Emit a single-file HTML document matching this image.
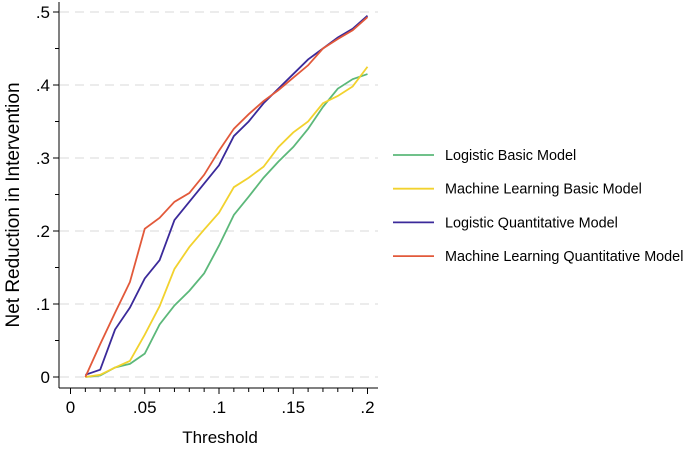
<!DOCTYPE html>
<html><head><meta charset="utf-8"><style>
body{margin:0;background:#fff;font-family:"Liberation Sans",Arial,sans-serif}
</style></head><body>
<svg id="c" width="685" height="444" xmlns="http://www.w3.org/2000/svg"></svg>
<script>
const thresholds=[.01,.02,.03,.04,.05,.06,.07,.08,.09,.1,.11,.12,.13,.14,.15,.16,.17,.18,.19,.2];
const logisticBasic=[0,.002,.013,.018,.032,.072,.098,.118,.142,.18,.222,.247,.273,.295,.315,.34,.37,.395,.408,.415];
const mlBasic=[0,.003,.013,.022,.058,.097,.148,.178,.202,.225,.26,.273,.288,.315,.335,.35,.375,.385,.398,.425];
const logisticQuant=[.003,.01,.065,.095,.135,.16,.215,.24,.265,.29,.33,.35,.375,.395,.415,.435,.45,.465,.477,.495];
const mlQuant=[0,.045,.088,.13,.203,.218,.24,.252,.277,.31,.34,.36,.378,.393,.41,.427,.45,.463,.475,.493];
const xTicks=[0,.05,.1,.15,.2];const xTickLabels=["0",".05",".1",".15",".2"];
const xMinor=[.01,.02,.03,.04,.06,.07,.08,.09,.11,.12,.13,.14,.16,.17,.18,.19];
const yTicks=[0,.1,.2,.3,.4,.5];const yTickLabels=["0",".1",".2",".3",".4",".5"];
const yMinor=[.05,.15,.25,.35,.45];
const seriesNames=["Logistic Basic Model","Machine Learning Basic Model","Logistic Quantitative Model","Machine Learning Quantitative Model"];
const seriesColors=["#5cb87a","#f2d22e","#3b2a9a","#e2593a"];
const series=[logisticBasic,mlBasic,logisticQuant,mlQuant];
const X=v=>70.5+v/0.2*297, Y=v=>377-v/0.5*365;
const svg=document.getElementById('c');const NS="http://www.w3.org/2000/svg";
function el(t,a,p){const e=document.createElementNS(NS,t);for(const k in a)e.setAttribute(k,a[k]);(p||svg).appendChild(e);return e;}
yTicks.forEach((t,i)=>{
 const g=el('line',{x1:60,x2:378,y1:Y(t),y2:Y(t),stroke:'#e6e6e6','stroke-dasharray':'9,6','stroke-width':1.5});
 
 
 const tk=el('line',{x1:53,x2:59,y1:Y(t),y2:Y(t),stroke:'#000'});
 
 
 const tx=el('text',{x:50,y:Y(t)+6,'text-anchor':'end','font-size':17});tx.textContent=yTickLabels[i];
 
 
});
yMinor.forEach(t=>{const tk=el('line',{x1:55,x2:59,y1:Y(t),y2:Y(t),stroke:'#000'});
 
 });
xTicks.forEach((t,i)=>{
 const tk=el('line',{x1:X(t),x2:X(t),y1:388,y2:394,stroke:'#000'});
 
 
 const tx=el('text',{x:X(t),y:413,'text-anchor':'middle','font-size':17});tx.textContent=xTickLabels[i];
 
 
});
xMinor.forEach(t=>{const tk=el('line',{x1:X(t),x2:X(t),y1:388,y2:392,stroke:'#000'});
 
 });
const ya=el('line',{x1:59,x2:59,y1:2,y2:388,stroke:'#000'});


const xa=el('line',{x1:59,x2:378,y1:388,y2:388,stroke:'#000'});


const xt=el('text',{x:220,y:443,'text-anchor':'middle','font-size':17});xt.textContent="Threshold";


const yt=el('text',{x:0,y:0,'text-anchor':'middle','font-size':19,transform:'translate(19,205) rotate(-90)'});yt.textContent="Net Reduction in Intervention";


series.forEach((s,j)=>{
 const p=el('polyline',{points:s.map((v,i)=>X(thresholds[i])+','+Y(v)).join(' '),fill:'none',stroke:seriesColors[j],'stroke-width':1.8});
 
 
 const ly=155+j*33.7;
 const ll=el('line',{x1:393,x2:434,y1:ly,y2:ly,stroke:seriesColors[j],'stroke-width':1.8});
 
 
 const lt=el('text',{x:445,y:ly+5,'font-size':14.4});lt.textContent=seriesNames[j];
 
 
});
</script>
</body></html>
